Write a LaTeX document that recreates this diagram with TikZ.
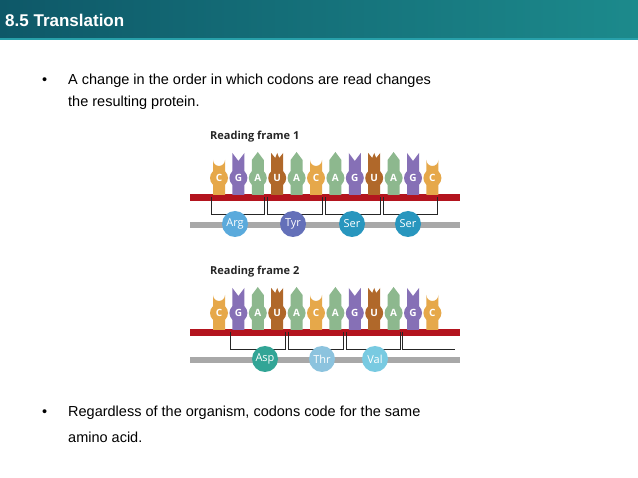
\documentclass[tikz,border=0pt]{standalone}
\usepackage{fontspec}
\setmainfont{Liberation Sans}
\newfontfamily\labfont{Open Sans}
\definecolor{cC}{HTML}{E6A84A}
\definecolor{cG}{HTML}{8670B6}
\definecolor{cA}{HTML}{8DB88E}
\definecolor{cU}{HTML}{B0682A}
\definecolor{redbar}{HTML}{B3141E}
\definecolor{graybar}{HTML}{A8A8A8}
\definecolor{hdL}{RGB}{14,88,104}
\definecolor{hdR}{RGB}{28,138,140}
\definecolor{hdline}{RGB}{40,160,170}
\definecolor{cArg}{RGB}{90,170,220}
\definecolor{cTyr}{RGB}{100,112,185}
\definecolor{cSer}{RGB}{40,150,190}
\definecolor{cAsp}{RGB}{50,165,150}
\definecolor{cThr}{RGB}{140,195,222}
\definecolor{cVal}{RGB}{120,202,225}
\def\refC{C}\def\refA{A}\def\refG{G}\def\refU{U}
\newcommand\nuc[3]{% x, letter, index
  \edef\nucL{#2}%
  \begin{scope}[shift={(#1,0)}]
  \ifx\nucL\refC
    \fill[cC] (-6,195) -- (-6,160) arc[start angle=180,end angle=0,radius=6] -- (6,195) -- cycle;
    \def\nc{cC}
  \fi
  \ifx\nucL\refA
    \fill[cA] (-6,195) -- (-6,160) -- (0,152) -- (6,160) -- (6,195) -- cycle;
    \def\nc{cA}
  \fi
  \ifx\nucL\refG
    \fill[cG] (-6,195) -- (-6,153) -- (0,161) -- (6,153) -- (6,195) -- cycle;
    \def\nc{cG}
  \fi
  \ifx\nucL\refU
    \fill[cU] (-6,195) -- (-6,153) -- (-2,158) -- (0,153) -- (2,158) -- (6,153) -- (6,195) -- cycle;
    \def\nc{cU}
  \fi
  \node[circle,fill=\nc,minimum size=18pt,inner sep=0pt,text=white,font=\labfont\bfseries\fontsize{10}{10}\selectfont] (n#3) at (0,178) {\nucL};
  \end{scope}}
\tikzset{bracket/.style={draw=black!85,line width=1pt},
  amino/.style={circle,minimum size=26pt,inner sep=0pt,text=white,font=\labfont\fontsize{11}{11}\selectfont},
  bul/.style={anchor=west,font=\fontsize{14.5}{14.5}\selectfont,inner sep=0pt}}
\begin{document}
\begin{tikzpicture}[x=1pt,y=-1pt]
\useasboundingbox (0,0) rectangle (638,478);
\fill[white] (0,0) rectangle (638,478);
\shade[left color=hdL, right color=hdR] (0,0) rectangle (638,38);
\fill[hdline] (0,38) rectangle (638,40);
\node[anchor=west,text=white,font=\bfseries\fontsize{17}{17}\selectfont,inner sep=0pt] (title) at (5,20) {8.5 Translation};
\node[bul] (b1) at (42,81) {•};
\node[bul] (t1) at (68,81) {A change in the order in which codons are read changes};
\node[bul] (t1b) at (68,103) {the resulting protein.};
\node[bul] (b2) at (42,413) {•};
\node[bul] (t2) at (68,413) {Regardless of the organism, codons code for the same};
\node[bul] (t2b) at (68,437) {amino acid.};
% frame 1
\begin{scope}
\node[anchor=west,inner sep=0pt,font=\labfont\bfseries\fontsize{11}{11}\selectfont,text=black!85] (rf1) at (210,137) {Reading frame 1};
\fill[graybar] (190,222) rectangle (460,228);
\fill[redbar] (190,194) rectangle (460,201);
\foreach \l [count=\i, evaluate=\i as \xx using 219+19.4*(\i-1)] in {C,G,A,U,A,C,A,G,U,A,G,C}{\nuc{\xx}{\l}{a\i}}
\foreach \a/\b in {211/264,267/322,325/380,383/437}{\draw[bracket] (\a,197) -- (\a,215) -- (\b,215) -- (\b,197);}
\node[amino,fill=cArg] (arg) at (235,224) {Arg};
\node[amino,fill=cTyr] (tyr) at (293,224) {Tyr};
\node[amino,fill=cSer] (ser1) at (352,224) {Ser};
\node[amino,fill=cSer] (ser2) at (408,224) {Ser};
\end{scope}
% frame 2
\begin{scope}[yshift=-135pt]
\node[anchor=west,inner sep=0pt,font=\labfont\bfseries\fontsize{11}{11}\selectfont,text=black!85] (rf2) at (210,137) {Reading frame 2};
\fill[graybar] (190,222) rectangle (460,228);
\fill[redbar] (190,194) rectangle (460,201);
\foreach \l [count=\i, evaluate=\i as \xx using 219+19.4*(\i-1)] in {C,G,A,U,A,C,A,G,U,A,G,C}{\nuc{\xx}{\l}{b\i}}
\foreach \a/\b in {230/285,288/343,346/400}{\draw[bracket] (\a,197) -- (\a,215) -- (\b,215) -- (\b,197);}
\draw[bracket] (402,197) -- (402,215) -- (455,215);
\node[amino,fill=cAsp] (asp) at (265,224) {Asp};
\node[amino,fill=cThr] (thr) at (322,224) {Thr};
\node[amino,fill=cVal] (val) at (375,224) {Val};
\end{scope}
\end{tikzpicture}
\end{document}
